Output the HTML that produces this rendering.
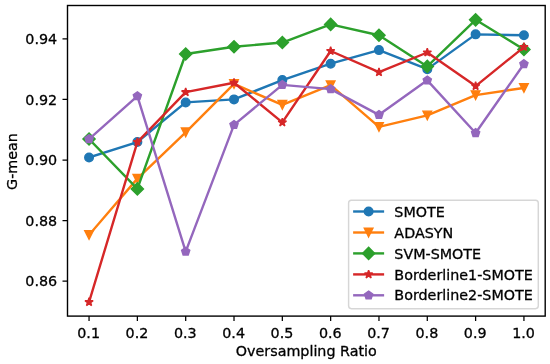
<!DOCTYPE html><html><head><meta charset="utf-8"><title>G-mean vs Oversampling Ratio</title>
<style>html,body{margin:0;padding:0;background:#fff;overflow:hidden}svg{display:block}text{stroke:#000;stroke-width:0.3px;font-family:"DejaVu Sans","Liberation Sans",sans-serif;font-size:14.3px;fill:#000}</style></head><body>
<svg width="550" height="364" viewBox="0 0 550 364">
<rect width="550" height="364" fill="#fff"/>
<defs><clipPath id="ax"><rect x="67.5" y="5.5" width="477.70000000000005" height="310.6"/></clipPath></defs>
<path d="M89.05 316.1v5.0M137.37 316.1v5.0M185.69 316.1v5.0M234.01 316.1v5.0M282.33 316.1v5.0M330.65 316.1v5.0M378.97 316.1v5.0M427.29 316.1v5.0M475.61 316.1v5.0M523.93 316.1v5.0M67.5 281.20h-5.0M67.5 220.60h-5.0M67.5 160.00h-5.0M67.5 99.40h-5.0M67.5 38.80h-5.0" stroke="#000" stroke-width="1.25" fill="none"/>
<text x="88.65" y="337.5" text-anchor="middle">0.1</text>
<text x="136.97" y="337.5" text-anchor="middle">0.2</text>
<text x="185.29" y="337.5" text-anchor="middle">0.3</text>
<text x="233.61" y="337.5" text-anchor="middle">0.4</text>
<text x="281.93" y="337.5" text-anchor="middle">0.5</text>
<text x="330.25" y="337.5" text-anchor="middle">0.6</text>
<text x="378.57" y="337.5" text-anchor="middle">0.7</text>
<text x="426.89" y="337.5" text-anchor="middle">0.8</text>
<text x="475.21" y="337.5" text-anchor="middle">0.9</text>
<text x="523.53" y="337.5" text-anchor="middle">1.0</text>
<text x="57.2" y="286.40" text-anchor="end">0.86</text>
<text x="57.2" y="225.80" text-anchor="end">0.88</text>
<text x="57.2" y="165.20" text-anchor="end">0.90</text>
<text x="57.2" y="104.60" text-anchor="end">0.92</text>
<text x="57.2" y="44.00" text-anchor="end">0.94</text>
<text x="306.3" y="355.5" text-anchor="middle">Oversampling Ratio</text>
<text transform="translate(16.7,161.5) rotate(-90)" text-anchor="middle">G-mean</text>
<g clip-path="url(#ax)">
<polyline points="89.05,157.48 137.37,142.05 185.69,102.42 234.01,99.40 282.33,80.04 330.65,63.70 378.97,50.09 427.29,69.15 475.61,34.36 523.93,35.27" fill="none" stroke="#1f77b4" stroke-width="2.4" stroke-linejoin="round" stroke-linecap="square"/>
<circle cx="89.05" cy="157.48" r="4.290" fill="#1f77b4" stroke="#1f77b4" stroke-width="1.43"/>
<circle cx="137.37" cy="142.05" r="4.290" fill="#1f77b4" stroke="#1f77b4" stroke-width="1.43"/>
<circle cx="185.69" cy="102.42" r="4.290" fill="#1f77b4" stroke="#1f77b4" stroke-width="1.43"/>
<circle cx="234.01" cy="99.40" r="4.290" fill="#1f77b4" stroke="#1f77b4" stroke-width="1.43"/>
<circle cx="282.33" cy="80.04" r="4.290" fill="#1f77b4" stroke="#1f77b4" stroke-width="1.43"/>
<circle cx="330.65" cy="63.70" r="4.290" fill="#1f77b4" stroke="#1f77b4" stroke-width="1.43"/>
<circle cx="378.97" cy="50.09" r="4.290" fill="#1f77b4" stroke="#1f77b4" stroke-width="1.43"/>
<circle cx="427.29" cy="69.15" r="4.290" fill="#1f77b4" stroke="#1f77b4" stroke-width="1.43"/>
<circle cx="475.61" cy="34.36" r="4.290" fill="#1f77b4" stroke="#1f77b4" stroke-width="1.43"/>
<circle cx="523.93" cy="35.27" r="4.290" fill="#1f77b4" stroke="#1f77b4" stroke-width="1.43"/>
<polyline points="89.05,234.92 137.37,178.65 185.69,132.37 234.01,83.97 282.33,104.84 330.65,85.18 378.97,126.93 427.29,115.43 475.61,95.16 523.93,87.90" fill="none" stroke="#ff7f0e" stroke-width="2.4" stroke-linejoin="round" stroke-linecap="square"/>
<polygon points="89.05,239.21 93.34,230.63 84.76,230.63" fill="#ff7f0e" stroke="#ff7f0e" stroke-width="1.43" stroke-linejoin="miter"/>
<polygon points="137.37,182.94 141.66,174.36 133.08,174.36" fill="#ff7f0e" stroke="#ff7f0e" stroke-width="1.43" stroke-linejoin="miter"/>
<polygon points="185.69,136.66 189.98,128.08 181.40,128.08" fill="#ff7f0e" stroke="#ff7f0e" stroke-width="1.43" stroke-linejoin="miter"/>
<polygon points="234.01,88.26 238.30,79.68 229.72,79.68" fill="#ff7f0e" stroke="#ff7f0e" stroke-width="1.43" stroke-linejoin="miter"/>
<polygon points="282.33,109.13 286.62,100.55 278.04,100.55" fill="#ff7f0e" stroke="#ff7f0e" stroke-width="1.43" stroke-linejoin="miter"/>
<polygon points="330.65,89.47 334.94,80.89 326.36,80.89" fill="#ff7f0e" stroke="#ff7f0e" stroke-width="1.43" stroke-linejoin="miter"/>
<polygon points="378.97,131.22 383.26,122.64 374.68,122.64" fill="#ff7f0e" stroke="#ff7f0e" stroke-width="1.43" stroke-linejoin="miter"/>
<polygon points="427.29,119.72 431.58,111.14 423.00,111.14" fill="#ff7f0e" stroke="#ff7f0e" stroke-width="1.43" stroke-linejoin="miter"/>
<polygon points="475.61,99.45 479.90,90.87 471.32,90.87" fill="#ff7f0e" stroke="#ff7f0e" stroke-width="1.43" stroke-linejoin="miter"/>
<polygon points="523.93,92.19 528.22,83.61 519.64,83.61" fill="#ff7f0e" stroke="#ff7f0e" stroke-width="1.43" stroke-linejoin="miter"/>
<polyline points="89.05,139.03 137.37,188.94 185.69,54.02 234.01,46.76 282.33,42.53 330.65,24.38 378.97,35.27 427.29,66.43 475.61,19.84 523.93,49.49" fill="none" stroke="#2ca02c" stroke-width="2.4" stroke-linejoin="round" stroke-linecap="square"/>
<polygon points="89.05,132.96 95.12,139.03 89.05,145.09 82.98,139.03" fill="#2ca02c" stroke="#2ca02c" stroke-width="1.43" stroke-linejoin="miter"/>
<polygon points="137.37,182.87 143.44,188.94 137.37,195.01 131.30,188.94" fill="#2ca02c" stroke="#2ca02c" stroke-width="1.43" stroke-linejoin="miter"/>
<polygon points="185.69,47.96 191.76,54.02 185.69,60.09 179.62,54.02" fill="#2ca02c" stroke="#2ca02c" stroke-width="1.43" stroke-linejoin="miter"/>
<polygon points="234.01,40.70 240.08,46.76 234.01,52.83 227.94,46.76" fill="#2ca02c" stroke="#2ca02c" stroke-width="1.43" stroke-linejoin="miter"/>
<polygon points="282.33,36.46 288.40,42.53 282.33,48.60 276.26,42.53" fill="#2ca02c" stroke="#2ca02c" stroke-width="1.43" stroke-linejoin="miter"/>
<polygon points="330.65,18.31 336.72,24.38 330.65,30.45 324.58,24.38" fill="#2ca02c" stroke="#2ca02c" stroke-width="1.43" stroke-linejoin="miter"/>
<polygon points="378.97,29.20 385.04,35.27 378.97,41.34 372.90,35.27" fill="#2ca02c" stroke="#2ca02c" stroke-width="1.43" stroke-linejoin="miter"/>
<polygon points="427.29,60.36 433.36,66.43 427.29,72.49 421.22,66.43" fill="#2ca02c" stroke="#2ca02c" stroke-width="1.43" stroke-linejoin="miter"/>
<polygon points="475.61,13.78 481.68,19.84 475.61,25.91 469.54,19.84" fill="#2ca02c" stroke="#2ca02c" stroke-width="1.43" stroke-linejoin="miter"/>
<polygon points="523.93,43.42 530.00,49.49 523.93,55.55 517.86,49.49" fill="#2ca02c" stroke="#2ca02c" stroke-width="1.43" stroke-linejoin="miter"/>
<polyline points="89.05,302.07 137.37,142.05 185.69,92.14 234.01,82.76 282.33,122.39 330.65,51.00 378.97,72.17 427.29,52.51 475.61,86.09 523.93,47.07" fill="none" stroke="#d62728" stroke-width="2.4" stroke-linejoin="round" stroke-linecap="square"/>
<polygon points="89.05,297.78 90.01,300.75 93.13,300.75 90.61,302.58 91.57,305.55 89.05,303.71 86.53,305.55 87.49,302.58 84.97,300.75 88.09,300.75" fill="#d62728" stroke="#d62728" stroke-width="1.43" stroke-linejoin="bevel"/>
<polygon points="137.37,137.76 138.33,140.73 141.45,140.73 138.93,142.56 139.89,145.52 137.37,143.69 134.85,145.52 135.81,142.56 133.29,140.73 136.41,140.73" fill="#d62728" stroke="#d62728" stroke-width="1.43" stroke-linejoin="bevel"/>
<polygon points="185.69,87.85 186.65,90.81 189.77,90.81 187.25,92.65 188.21,95.61 185.69,93.78 183.17,95.61 184.13,92.65 181.61,90.81 184.73,90.81" fill="#d62728" stroke="#d62728" stroke-width="1.43" stroke-linejoin="bevel"/>
<polygon points="234.01,78.47 234.97,81.44 238.09,81.44 235.57,83.27 236.53,86.23 234.01,84.40 231.49,86.23 232.45,83.27 229.93,81.44 233.05,81.44" fill="#d62728" stroke="#d62728" stroke-width="1.43" stroke-linejoin="bevel"/>
<polygon points="282.33,118.10 283.29,121.06 286.41,121.06 283.89,122.90 284.85,125.86 282.33,124.03 279.81,125.86 280.77,122.90 278.25,121.06 281.37,121.06" fill="#d62728" stroke="#d62728" stroke-width="1.43" stroke-linejoin="bevel"/>
<polygon points="330.65,46.71 331.61,49.67 334.73,49.67 332.21,51.51 333.17,54.47 330.65,52.64 328.13,54.47 329.09,51.51 326.57,49.67 329.69,49.67" fill="#d62728" stroke="#d62728" stroke-width="1.43" stroke-linejoin="bevel"/>
<polygon points="378.97,67.88 379.93,70.85 383.05,70.85 380.53,72.68 381.49,75.65 378.97,73.81 376.45,75.65 377.41,72.68 374.89,70.85 378.01,70.85" fill="#d62728" stroke="#d62728" stroke-width="1.43" stroke-linejoin="bevel"/>
<polygon points="427.29,48.22 428.25,51.19 431.37,51.19 428.85,53.02 429.81,55.98 427.29,54.15 424.77,55.98 425.73,53.02 423.21,51.19 426.33,51.19" fill="#d62728" stroke="#d62728" stroke-width="1.43" stroke-linejoin="bevel"/>
<polygon points="475.61,81.80 476.57,84.76 479.69,84.76 477.17,86.60 478.13,89.56 475.61,87.73 473.09,89.56 474.05,86.60 471.53,84.76 474.65,84.76" fill="#d62728" stroke="#d62728" stroke-width="1.43" stroke-linejoin="bevel"/>
<polygon points="523.93,42.78 524.89,45.74 528.01,45.74 525.49,47.57 526.45,50.54 523.93,48.71 521.41,50.54 522.37,47.57 519.85,45.74 522.97,45.74" fill="#d62728" stroke="#d62728" stroke-width="1.43" stroke-linejoin="bevel"/>
<polyline points="89.05,139.03 137.37,96.07 185.69,251.56 234.01,124.81 282.33,84.88 330.65,89.11 378.97,114.83 427.29,80.34 475.61,132.98 523.93,64.01" fill="none" stroke="#9467bd" stroke-width="2.4" stroke-linejoin="round" stroke-linecap="square"/>
<polygon points="89.05,134.74 93.13,137.70 91.57,142.50 86.53,142.50 84.97,137.70" fill="#9467bd" stroke="#9467bd" stroke-width="1.43" stroke-linejoin="miter"/>
<polygon points="137.37,91.78 141.45,94.75 139.89,99.54 134.85,99.54 133.29,94.75" fill="#9467bd" stroke="#9467bd" stroke-width="1.43" stroke-linejoin="miter"/>
<polygon points="185.69,247.27 189.77,250.23 188.21,255.03 183.17,255.03 181.61,250.23" fill="#9467bd" stroke="#9467bd" stroke-width="1.43" stroke-linejoin="miter"/>
<polygon points="234.01,120.52 238.09,123.48 236.53,128.28 231.49,128.28 229.93,123.48" fill="#9467bd" stroke="#9467bd" stroke-width="1.43" stroke-linejoin="miter"/>
<polygon points="282.33,80.59 286.41,83.55 284.85,88.35 279.81,88.35 278.25,83.55" fill="#9467bd" stroke="#9467bd" stroke-width="1.43" stroke-linejoin="miter"/>
<polygon points="330.65,84.82 334.73,87.79 333.17,92.59 328.13,92.59 326.57,87.79" fill="#9467bd" stroke="#9467bd" stroke-width="1.43" stroke-linejoin="miter"/>
<polygon points="378.97,110.54 383.05,113.50 381.49,118.30 376.45,118.30 374.89,113.50" fill="#9467bd" stroke="#9467bd" stroke-width="1.43" stroke-linejoin="miter"/>
<polygon points="427.29,76.05 431.37,79.02 429.81,83.81 424.77,83.81 423.21,79.02" fill="#9467bd" stroke="#9467bd" stroke-width="1.43" stroke-linejoin="miter"/>
<polygon points="475.61,128.69 479.69,131.65 478.13,136.45 473.09,136.45 471.53,131.65" fill="#9467bd" stroke="#9467bd" stroke-width="1.43" stroke-linejoin="miter"/>
<polygon points="523.93,59.72 528.01,62.68 526.45,67.48 521.41,67.48 519.85,62.68" fill="#9467bd" stroke="#9467bd" stroke-width="1.43" stroke-linejoin="miter"/>
</g>
<rect x="67.5" y="5.5" width="477.70000000000005" height="310.6" fill="none" stroke="#000" stroke-width="1.4" stroke-linejoin="miter"/>
<rect x="348.6" y="200.2" width="189.70" height="108.50" rx="2.86" ry="2.86" fill="#fff" fill-opacity="0.8" stroke="#ccc" stroke-opacity="0.8" stroke-width="1.43"/>
<path d="M354.32 211.5H382.92" stroke="#1f77b4" stroke-width="2.4" stroke-linecap="square"/>
<circle cx="368.62" cy="211.50" r="4.290" fill="#1f77b4" stroke="#1f77b4" stroke-width="1.43"/>
<text x="394.36" y="216.60">SMOTE</text>
<path d="M354.32 232.5H382.92" stroke="#ff7f0e" stroke-width="2.4" stroke-linecap="square"/>
<polygon points="368.62,236.79 372.91,228.21 364.33,228.21" fill="#ff7f0e" stroke="#ff7f0e" stroke-width="1.43" stroke-linejoin="miter"/>
<text x="394.36" y="237.60">ADASYN</text>
<path d="M354.32 253.4H382.92" stroke="#2ca02c" stroke-width="2.4" stroke-linecap="square"/>
<polygon points="368.62,247.33 374.69,253.40 368.62,259.47 362.55,253.40" fill="#2ca02c" stroke="#2ca02c" stroke-width="1.43" stroke-linejoin="miter"/>
<text x="394.36" y="258.50">SVM-SMOTE</text>
<path d="M354.32 274.4H382.92" stroke="#d62728" stroke-width="2.4" stroke-linecap="square"/>
<polygon points="368.62,270.11 369.58,273.07 372.70,273.07 370.18,274.91 371.14,277.87 368.62,276.04 366.10,277.87 367.06,274.91 364.54,273.07 367.66,273.07" fill="#d62728" stroke="#d62728" stroke-width="1.43" stroke-linejoin="bevel"/>
<text x="394.36" y="279.50">Borderline1-SMOTE</text>
<path d="M354.32 295.3H382.92" stroke="#9467bd" stroke-width="2.4" stroke-linecap="square"/>
<polygon points="368.62,291.01 372.70,293.97 371.14,298.77 366.10,298.77 364.54,293.97" fill="#9467bd" stroke="#9467bd" stroke-width="1.43" stroke-linejoin="miter"/>
<text x="394.36" y="300.40">Borderline2-SMOTE</text>
</svg></body></html>
